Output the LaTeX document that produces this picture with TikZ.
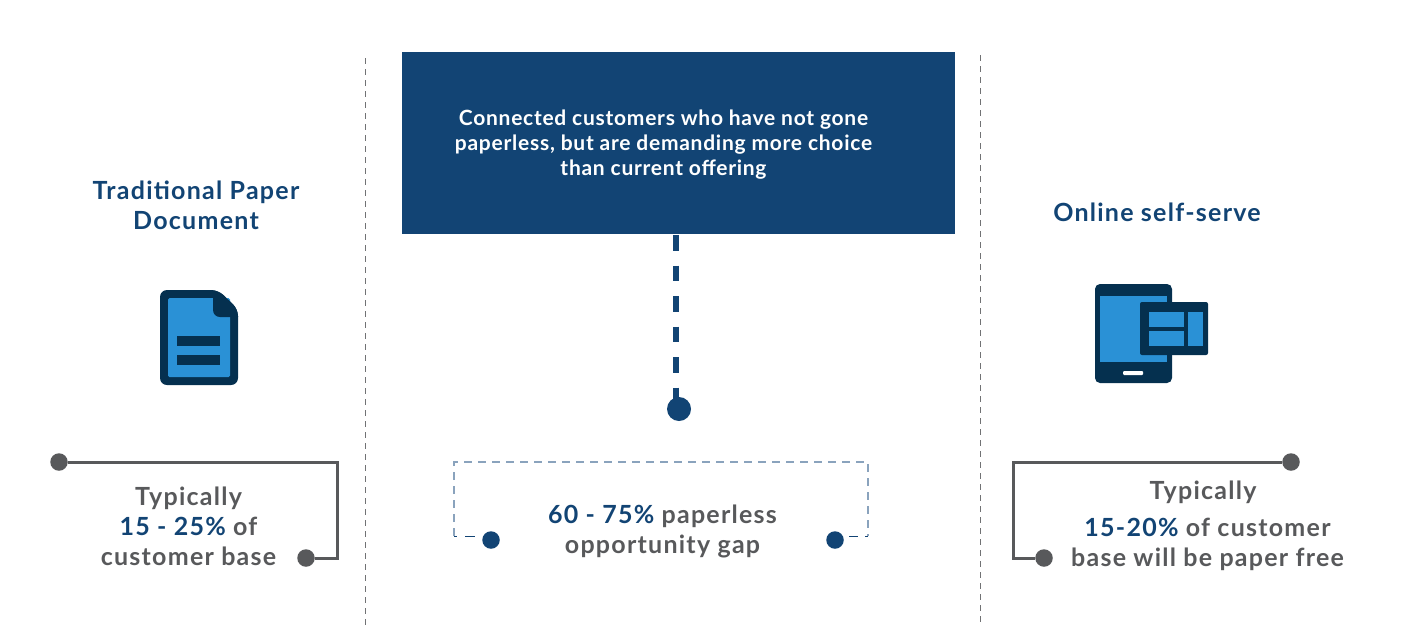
\documentclass[tikz,border=0pt]{standalone}
\usepackage{fontspec}
\setmainfont{Lato}[LetterSpace=5]
\newfontfamily\whitefam{Lato}[LetterSpace=3.5]
\definecolor{navy}{HTML}{124474}
\definecolor{ink}{HTML}{05304F}
\definecolor{sky}{HTML}{2A91D6}
\definecolor{graytxt}{HTML}{58595B}
\definecolor{pale}{HTML}{8AA3BD}
\newcommand{\hl}[1]{{\bfseries\color{navy}#1}}
\tikzset{
  x=1pt,y=-1pt,
  txt/.style={align=center,inner sep=0pt,font=\fontsize{25}{30}\selectfont\bfseries,text=graytxt},
  head/.style={align=center,inner sep=0pt,font=\fontsize{25}{30}\selectfont\bfseries,text=navy},
  whitetxt/.style={align=center,inner sep=0pt,font=\whitefam\fontsize{21}{25}\selectfont\bfseries,text=white},
  divider/.style={draw=graytxt!85,line width=0.9pt,dash pattern=on 6pt off 5pt},
  grayline/.style={draw=graytxt,line width=3pt},
  graydot/.style={circle,fill=graytxt,inner sep=0pt,minimum size=17.5pt},
  navydot/.style={circle,fill=navy,inner sep=0pt,minimum size=17.5pt},
  bigdot/.style={circle,fill=navy,inner sep=0pt,minimum size=24pt}
}
\begin{document}
\begin{tikzpicture}
\useasboundingbox (0,0) rectangle (1413,643);
% dividers
\coordinate (d1a) at (365,58); \coordinate (d1b) at (365,628);
\coordinate (d2a) at (980,55); \coordinate (d2b) at (980,625);
\draw[divider] (d1a) -- (d1b);
\draw[divider] (d2a) -- (d2b);
% centre box
\node[fill=navy,minimum width=553.5pt,minimum height=182pt,inner sep=0pt] (box) at (678.5,143) {};
\node[whitetxt] (boxtext) at (663.5,144.5) {Connected customers who have not gone\\paperless, but are demanding more choice\\than current offering};
\coordinate (stemtop) at (676,235);
\node[bigdot] (stemdot) at (679,409) {};
\draw[navy,line width=5.5pt,dash pattern=on 15.5pt off 15pt] (stemtop) -- (676,400);
% gap box
\node[navydot] (gapl) at (491,540) {};
\node[navydot] (gapr) at (835,540) {};
\coordinate (gtl) at (454,462); \coordinate (gtr) at (868,462);
\coordinate (gbl) at (454,536); \coordinate (gbr) at (868,536);
\draw[pale,line width=1.1pt,dash pattern=on 8pt off 6pt] (gbl) -- (gtl) -- (gtr) -- (gbr);
\draw[navy,line width=1pt] (gbl) -- (457,536) (465,536) -- (475,536);
\draw[navy,line width=1pt] (gbr) -- (865,536) (849,536) -- (858,536);
\node[txt] (gaptext) at (662.5,531) {\hl{60 - 75\%} paperless\\opportunity gap};
% left column
\node[head] (lefthead) at (196,205.5) {Traditional Paper\\Document};
\node[graydot] (l1) at (59,462) {};
\node[graydot] (l2) at (306,558) {};
\coordinate (lc1) at (337,462); \coordinate (lc2) at (337,558);
\draw[grayline] (l1) -- (lc1) -- (lc2) -- (l2);
\node[txt] (lefttext) at (188.5,526.5) {Typically\\\hl{15 - 25\%} of\\customer base};
% right column
\node[head] (righthead) at (1157,212.5) {Online self-serve};
\node[graydot] (r1) at (1291,462) {};
\node[graydot] (r2) at (1044,558) {};
\coordinate (rc1) at (1013,462); \coordinate (rc2) at (1013,558);
\draw[grayline] (r1) -- (rc1) -- (rc2) -- (r2);
\node[txt] (righttop) at (1203,492) {Typically};
\node[txt] (righttext) at (1207.5,544) {\hl{15-20\%} of customer\\base will be paper free};
% document icon
\fill[ink,rounded corners=7pt] (160,290) -- (218,290) -- (238,309) -- (238,385) -- (160,385) -- cycle;
\fill[sky,rounded corners=1.5pt] (168,298) rectangle (230,377);
\begin{scope}
  \clip[rounded corners=7pt] (160,290) -- (218,290) -- (238,309) -- (238,385) -- (160,385) -- cycle;
  \fill[ink,rounded corners=7pt] (213,285) -- (213,317) -- (245,317) -- (245,285) -- cycle;
\end{scope}
\fill[ink] (177,336) rectangle (220,346);
\fill[ink] (177,355) rectangle (220,365);
% tablet icon
\fill[ink,rounded corners=5pt] (1095,284) rectangle (1172,383);
\fill[sky] (1100,296) rectangle (1167,362);
\fill[white,rounded corners=1pt] (1123,371) rectangle (1143,375);
\fill[ink,rounded corners=2pt] (1140,302) rectangle (1208,355);
\fill[sky] (1149,312) rectangle (1183.5,327);
\fill[sky] (1149,331) rectangle (1183.5,346);
\fill[sky] (1188,312) rectangle (1203,346);
\end{tikzpicture}
\end{document}
